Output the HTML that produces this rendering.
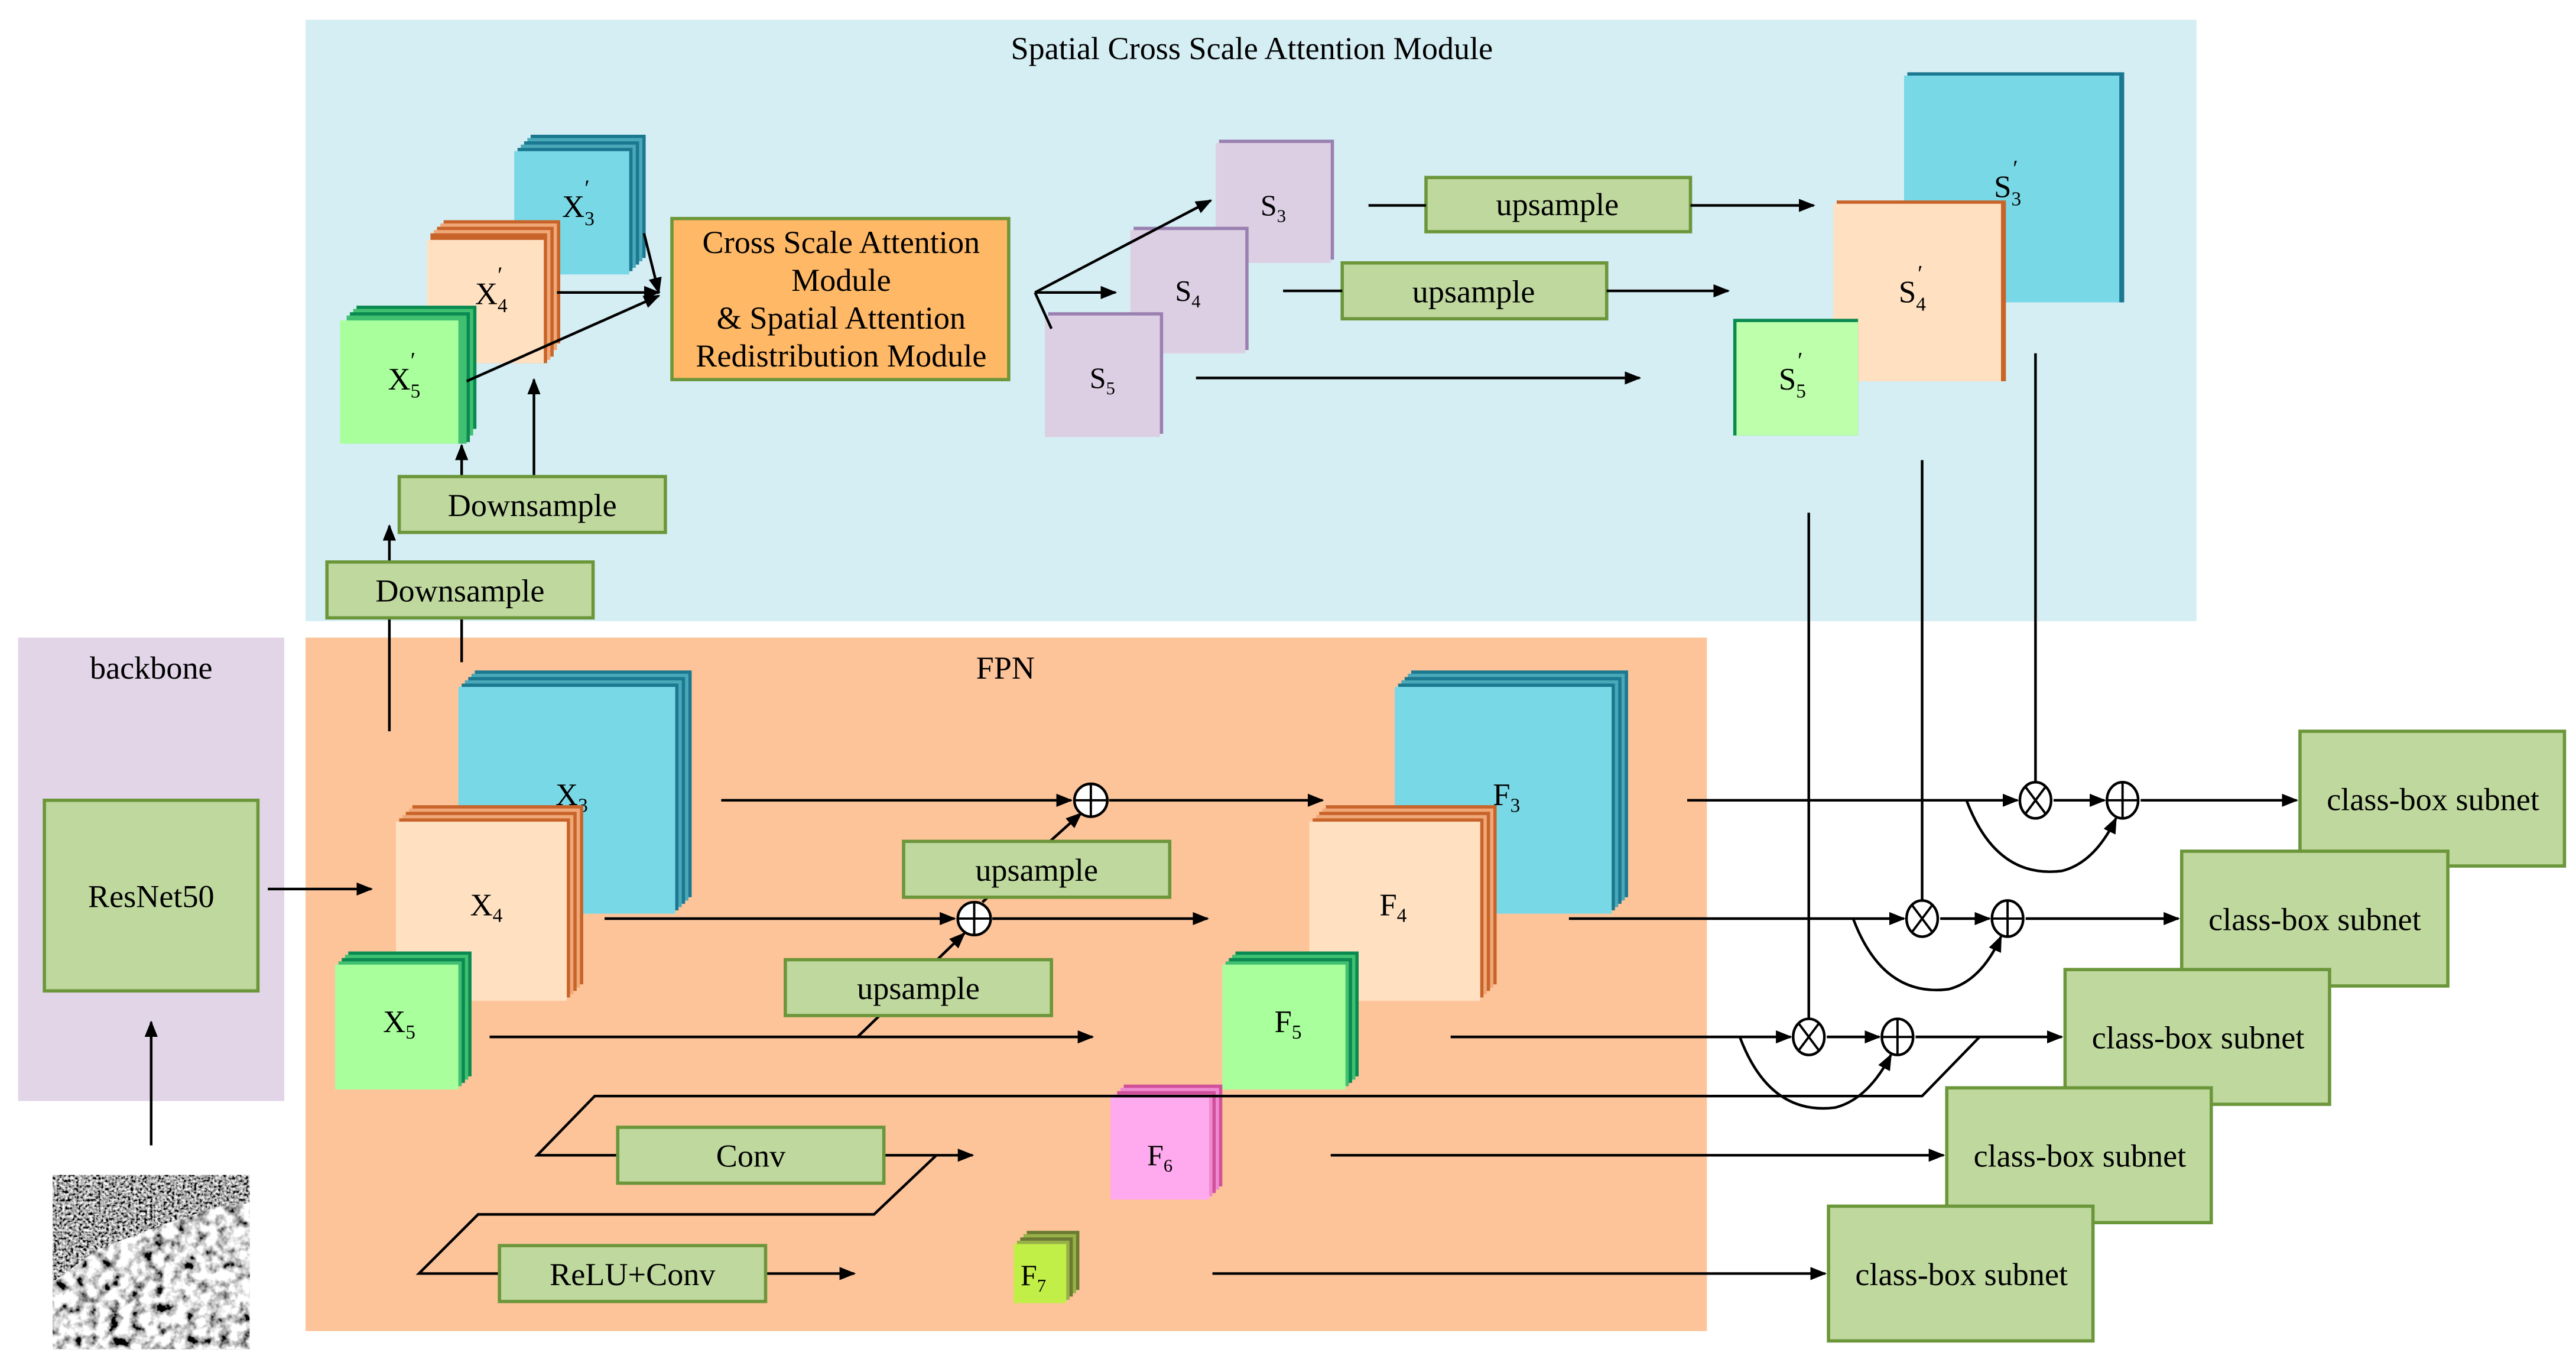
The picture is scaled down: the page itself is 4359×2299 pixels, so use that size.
<!DOCTYPE html>
<html><head><meta charset="utf-8"><style>
html,body{margin:0;padding:0;background:#fff;}
svg{display:block}
text{font-family:"Liberation Serif",serif;fill:#000}
</style></head><body>
<svg width="4359" height="2299" viewBox="0 0 1568 827" xmlns="http://www.w3.org/2000/svg">
<defs>
<marker id="a" markerWidth="10" markerHeight="8" refX="9" refY="4" orient="auto" markerUnits="userSpaceOnUse"><path d="M0,0 L10,4 L0,8 Z" fill="#000"/></marker>
<filter id="n" filterUnits="userSpaceOnUse" x="32" y="715" width="120" height="106"><feTurbulence type="fractalNoise" baseFrequency="0.6" numOctaves="2" seed="3"/><feColorMatrix type="saturate" values="0"/><feComponentTransfer><feFuncR type="linear" slope="3" intercept="-1.1"/><feFuncG type="linear" slope="3" intercept="-1.1"/><feFuncB type="linear" slope="3" intercept="-1.1"/><feFuncA type="linear" slope="0" intercept="1"/></feComponentTransfer></filter>
<filter id="m" filterUnits="userSpaceOnUse" x="32" y="715" width="120" height="106"><feTurbulence type="fractalNoise" baseFrequency="0.15" numOctaves="3" seed="7"/><feColorMatrix type="saturate" values="0"/><feComponentTransfer><feFuncR type="linear" slope="4" intercept="-1.3"/><feFuncG type="linear" slope="4" intercept="-1.3"/><feFuncB type="linear" slope="4" intercept="-1.3"/><feFuncA type="linear" slope="0" intercept="1"/></feComponentTransfer></filter>
<clipPath id="c"><rect x="32" y="715" width="120" height="106"/></clipPath>
<clipPath id="c2"><polygon points="32,780 60,760 100,745 130,735 152,732 152,821 32,821"/></clipPath>
</defs>
<rect width="1568" height="827" fill="#fff"/>
<rect x="186" y="12" width="1151" height="366" fill="#d5eef3"/>
<rect x="11" y="388" width="162" height="282" fill="#e1d5e7"/>
<rect x="186" y="388" width="853" height="422" fill="#fdc49a"/>
<text x="762" y="36" font-size="19.5" text-anchor="middle">Spatial Cross Scale Attention Module</text>
<text x="92" y="413" font-size="19.5" text-anchor="middle">backbone</text>
<text x="612" y="413" font-size="19.5" text-anchor="middle">FPN</text>

<rect x="27" y="487" width="130" height="116" fill="#bfd89e" stroke="#6b963a" stroke-width="2"/>
<text x="92" y="552" font-size="19.5" text-anchor="middle">ResNet50</text>
<g clip-path="url(#c)">
<rect x="32" y="715" width="120" height="106" fill="#222" filter="url(#n)"/>
<g clip-path="url(#c2)"><rect x="32" y="715" width="120" height="106" fill="#888" filter="url(#m)"/></g>
</g>
<line x1="92" y1="697" x2="92" y2="622" stroke="#000" stroke-width="1.6" marker-end="url(#a)"/>
<line x1="163" y1="541" x2="226" y2="541" stroke="#000" stroke-width="1.6" marker-end="url(#a)"/>

<g>
<rect x="289" y="408" width="132" height="138" fill="#1a7890"/><rect x="287" y="410" width="132" height="138" fill="#4aa8b8"/>
<rect x="285" y="412" width="132" height="138" fill="#1a7890"/><rect x="283" y="414" width="132" height="138" fill="#4aa8b8"/>
<rect x="281" y="416" width="132" height="138" fill="#1a7890"/>
<rect x="279" y="418" width="132" height="138" fill="#79d8e6"/>
</g>
<text x="348" y="490" font-size="19" text-anchor="middle">X<tspan font-size="12" dy="4">3</tspan></text>
<g>
<rect x="251" y="490" width="104" height="109" fill="#c8642a"/><rect x="249" y="492" width="104" height="109" fill="#f0a878"/>
<rect x="247" y="494" width="104" height="109" fill="#c8642a"/><rect x="245" y="496" width="104" height="109" fill="#f0a878"/>
<rect x="243" y="498" width="104" height="109" fill="#c8642a"/>
<rect x="241" y="500" width="104" height="109" fill="#ffe1c2"/>
</g>
<text x="296" y="557" font-size="19" text-anchor="middle">X<tspan font-size="12" dy="4">4</tspan></text>
<g>
<rect x="212" y="579" width="75" height="76" fill="#0a8a50"/><rect x="210" y="581" width="75" height="76" fill="#40c070"/>
<rect x="208" y="583" width="75" height="76" fill="#0a8a50"/><rect x="206" y="585" width="75" height="76" fill="#40c070"/>
<rect x="204" y="587" width="75" height="76" fill="#a8ff9c"/>
</g>
<text x="243" y="628" font-size="19" text-anchor="middle">X<tspan font-size="12" dy="4">5</tspan></text>

<g>
<rect x="859" y="408" width="132" height="138" fill="#1a7890"/><rect x="857" y="410" width="132" height="138" fill="#4aa8b8"/>
<rect x="855" y="412" width="132" height="138" fill="#1a7890"/><rect x="853" y="414" width="132" height="138" fill="#4aa8b8"/>
<rect x="851" y="416" width="132" height="138" fill="#1a7890"/>
<rect x="849" y="418" width="132" height="138" fill="#79d8e6"/>
</g>
<text x="917" y="490" font-size="19" text-anchor="middle">F<tspan font-size="12" dy="4">3</tspan></text>
<g>
<rect x="807" y="490" width="104" height="109" fill="#c8642a"/><rect x="805" y="492" width="104" height="109" fill="#f0a878"/>
<rect x="803" y="494" width="104" height="109" fill="#c8642a"/><rect x="801" y="496" width="104" height="109" fill="#f0a878"/>
<rect x="799" y="498" width="104" height="109" fill="#c8642a"/>
<rect x="797" y="500" width="104" height="109" fill="#ffe1c2"/>
</g>
<text x="848" y="557" font-size="19" text-anchor="middle">F<tspan font-size="12" dy="4">4</tspan></text>
<g>
<rect x="752" y="579" width="75" height="76" fill="#0a8a50"/><rect x="750" y="581" width="75" height="76" fill="#40c070"/>
<rect x="748" y="583" width="75" height="76" fill="#0a8a50"/><rect x="746" y="585" width="75" height="76" fill="#40c070"/>
<rect x="744" y="587" width="75" height="76" fill="#a8ff9c"/>
</g>
<text x="784" y="628" font-size="19" text-anchor="middle">F<tspan font-size="12" dy="4">5</tspan></text>
<g>
<rect x="684" y="660" width="60" height="62" fill="#d0509a"/><rect x="682" y="662" width="60" height="62" fill="#f08ad0"/>
<rect x="680" y="664" width="60" height="62" fill="#d0509a"/><rect x="678" y="666" width="60" height="62" fill="#f08ad0"/>
<rect x="676" y="668" width="60" height="62" fill="#ffaaee"/>
</g>
<text x="706" y="709" font-size="18" text-anchor="middle">F<tspan font-size="11" dy="4">6</tspan></text>
<g>
<rect x="625" y="749" width="32" height="36" fill="#6a7a30"/><rect x="623" y="751" width="32" height="36" fill="#98b048"/>
<rect x="621" y="753" width="32" height="36" fill="#6a7a30"/><rect x="619" y="755" width="32" height="36" fill="#98b048"/>
<rect x="617" y="757" width="32" height="36" fill="#c2ee48"/>
</g>
<text x="629" y="782" font-size="18" text-anchor="middle">F<tspan font-size="11" dy="4">7</tspan></text>

<g stroke="#000" stroke-width="1.6" fill="none">
<line x1="439" y1="487" x2="652" y2="487" marker-end="url(#a)"/>
<line x1="675" y1="487" x2="805" y2="487" marker-end="url(#a)"/>
<line x1="368" y1="559" x2="581" y2="559" marker-end="url(#a)"/>
<line x1="604" y1="559" x2="735" y2="559" marker-end="url(#a)"/>
<line x1="298" y1="631" x2="665" y2="631" marker-end="url(#a)"/>
<line x1="522" y1="631" x2="587" y2="568" marker-end="url(#a)"/>
<line x1="598" y1="549" x2="658" y2="495" marker-end="url(#a)"/>
<polyline points="1205,631 1170,667 362,667 327,703 592,703" marker-end="url(#a)"/>
<polyline points="570,703 532,739 291,739 255,775 520,775" marker-end="url(#a)"/>
<line x1="810" y1="703" x2="1183" y2="703" marker-end="url(#a)"/>
<line x1="738" y1="775" x2="1111" y2="775" marker-end="url(#a)"/>
<line x1="237" y1="445" x2="237" y2="320" marker-end="url(#a)"/>
<line x1="281" y1="403" x2="281" y2="376"/>
<line x1="281" y1="290" x2="281" y2="271" marker-end="url(#a)"/>
<line x1="325" y1="290" x2="325" y2="231" marker-end="url(#a)"/>
</g>
<g stroke="#000" stroke-width="1.6" fill="#fff">
<circle cx="664" cy="487" r="10"/><circle cx="593" cy="559" r="10"/>
</g>
<g stroke="#000" stroke-width="1.4">
<line x1="654" y1="487" x2="674" y2="487"/><line x1="664" y1="477" x2="664" y2="497"/>
<line x1="583" y1="559" x2="603" y2="559"/><line x1="593" y1="549" x2="593" y2="569"/>
</g>

<g fill="#bfd89e" stroke="#6b963a" stroke-width="2">
<rect x="550" y="512" width="162" height="34"/>
<rect x="478" y="584" width="162" height="34"/>
<rect x="376" y="686" width="162" height="34"/>
<rect x="304" y="758" width="162" height="34"/>
<rect x="243" y="290" width="162" height="34"/>
<rect x="199" y="342" width="162" height="34"/>
<rect x="868" y="108" width="161" height="33"/>
<rect x="817" y="160" width="161" height="34"/>
</g>
<g font-size="19.5" text-anchor="middle">
<text x="631" y="536">upsample</text>
<text x="559" y="608">upsample</text>
<text x="457" y="710">Conv</text>
<text x="385" y="782">ReLU+Conv</text>
<text x="324" y="314">Downsample</text>
<text x="280" y="366">Downsample</text>
<text x="948" y="131">upsample</text>
<text x="897" y="184">upsample</text>
</g>

<g>
<rect x="323" y="82" width="70" height="75" fill="#1a7890"/><rect x="321" y="84" width="70" height="75" fill="#4aa8b8"/>
<rect x="319" y="86" width="70" height="75" fill="#1a7890"/><rect x="317" y="88" width="70" height="75" fill="#4aa8b8"/>
<rect x="315" y="90" width="70" height="75" fill="#1a7890"/>
<rect x="313" y="92" width="70" height="75" fill="#79d8e6"/>
</g>
<text x="352" y="132" font-size="19" text-anchor="middle">X<tspan font-size="12" dy="5">3</tspan><tspan font-size="14" dx="-6" dy="-18">′</tspan></text>
<g>
<rect x="270" y="134" width="71" height="75" fill="#c8642a"/><rect x="268" y="136" width="71" height="77" fill="#f0a878"/>
<rect x="266" y="138" width="71" height="79" fill="#c8642a"/><rect x="264" y="140" width="71" height="79" fill="#f0a878"/>
<rect x="262" y="142" width="71" height="79" fill="#c8642a"/>
<rect x="260" y="146" width="71" height="75" fill="#ffe1c2"/>
</g>
<text x="299" y="185" font-size="19" text-anchor="middle">X<tspan font-size="12" dy="5">4</tspan><tspan font-size="14" dx="-6" dy="-18">′</tspan></text>
<g>
<rect x="217" y="186" width="73" height="75" fill="#0a8a50"/><rect x="215" y="188" width="73" height="77" fill="#40c070"/>
<rect x="213" y="190" width="73" height="79" fill="#0a8a50"/><rect x="211" y="192" width="73" height="78" fill="#40c070"/>
<rect x="207" y="195" width="72" height="75" fill="#a8ff9c"/>
</g>
<text x="246" y="237" font-size="19" text-anchor="middle">X<tspan font-size="12" dy="5">5</tspan><tspan font-size="14" dx="-6" dy="-18">′</tspan></text>

<rect x="409" y="133" width="205" height="98" fill="#ffb866" stroke="#6b963a" stroke-width="2"/>
<g font-size="19.5" text-anchor="middle">
<text x="512" y="154">Cross Scale Attention</text>
<text x="512" y="177">Module</text>
<text x="512" y="200">&amp; Spatial Attention</text>
<text x="512" y="223">Redistribution Module</text>
</g>
<g stroke="#000" stroke-width="1.6" fill="none">
<line x1="392" y1="142" x2="401" y2="178" marker-end="url(#a)"/>
<line x1="339" y1="178" x2="401" y2="178" marker-end="url(#a)"/>
<line x1="284" y1="232" x2="401" y2="180" marker-end="url(#a)"/>
</g>

<g>
<rect x="742" y="85" width="70" height="73" fill="#9a80b0"/>
<rect x="740" y="87" width="70" height="73" fill="#dccfe4"/>
<rect x="690" y="138" width="70" height="75" fill="#9a80b0"/>
<rect x="688" y="140" width="70" height="75" fill="#dccfe4"/>
<rect x="638" y="190" width="70" height="74" fill="#9a80b0"/>
<rect x="636" y="192" width="70" height="74" fill="#dccfe4"/>
</g>
<g font-size="18" text-anchor="middle">
<text x="775" y="131">S<tspan font-size="11" dy="4">3</tspan></text>
<text x="723" y="183">S<tspan font-size="11" dy="4">4</tspan></text>
<text x="671" y="236">S<tspan font-size="11" dy="4">5</tspan></text>
</g>
<g stroke="#000" stroke-width="1.6" fill="none">
<line x1="630" y1="178" x2="737" y2="122" marker-end="url(#a)"/>
<line x1="630" y1="178" x2="679" y2="178" marker-end="url(#a)"/>
<line x1="630" y1="178" x2="640" y2="200"/>
<line x1="833" y1="125" x2="868" y2="125"/>
<line x1="1029" y1="125" x2="1104" y2="125" marker-end="url(#a)"/>
<line x1="781" y1="177" x2="817" y2="177"/>
<line x1="978" y1="177" x2="1052" y2="177" marker-end="url(#a)"/>
<line x1="728" y1="230" x2="998" y2="230" marker-end="url(#a)"/>
</g>

<rect x="1161" y="44" width="132" height="140" fill="#1a7890"/>
<rect x="1159" y="46" width="131" height="138" fill="#79d8e6"/>
<rect x="1118" y="122" width="103" height="110" fill="#c8642a"/>
<rect x="1116" y="124" width="102" height="108" fill="#ffe1c2"/>
<rect x="1055" y="194" width="76" height="71" fill="#0a8a50"/>
<rect x="1057" y="196" width="74" height="69" fill="#bdffaa"/>
<g font-size="19" text-anchor="middle">
<text x="1222" y="120">S<tspan font-size="12" dy="5">3</tspan><tspan font-size="14" dx="-5" dy="-18">′</tspan></text>
<text x="1164" y="184">S<tspan font-size="12" dy="5">4</tspan><tspan font-size="14" dx="-5" dy="-18">′</tspan></text>
<text x="1091" y="237">S<tspan font-size="12" dy="5">5</tspan><tspan font-size="14" dx="-5" dy="-18">′</tspan></text>
</g>

<g stroke="#000" stroke-width="1.6" fill="none">
<line x1="1239" y1="215" x2="1239" y2="476"/>
<line x1="1170" y1="280" x2="1170" y2="548"/>
<line x1="1101" y1="312" x2="1101" y2="620"/>
<line x1="1027" y1="487" x2="1228" y2="487" marker-end="url(#a)"/>
<line x1="1250" y1="487" x2="1281" y2="487" marker-end="url(#a)"/>
<line x1="1303" y1="487" x2="1398" y2="487" marker-end="url(#a)"/>
<path d="M1197,487 Q1215,535 1255,530 Q1275,525 1288,498" marker-end="url(#a)"/>
<line x1="955" y1="559" x2="1159" y2="559" marker-end="url(#a)"/>
<line x1="1181" y1="559" x2="1211" y2="559" marker-end="url(#a)"/>
<line x1="1233" y1="559" x2="1326" y2="559" marker-end="url(#a)"/>
<path d="M1128,559 Q1146,607 1186,602 Q1206,597 1218,570" marker-end="url(#a)"/>
<line x1="883" y1="631" x2="1090" y2="631" marker-end="url(#a)"/>
<line x1="1112" y1="631" x2="1144" y2="631" marker-end="url(#a)"/>
<line x1="1166" y1="631" x2="1255" y2="631" marker-end="url(#a)"/>
<path d="M1059,631 Q1077,679 1117,674 Q1137,669 1151,642" marker-end="url(#a)"/>
</g>
<g stroke="#000" stroke-width="1.6" fill="#fff">
<ellipse cx="1239" cy="487" rx="9.5" ry="11"/><ellipse cx="1292" cy="487" rx="9.5" ry="11"/>
<ellipse cx="1170" cy="559" rx="9.5" ry="11"/><ellipse cx="1222" cy="559" rx="9.5" ry="11"/>
<ellipse cx="1101" cy="631" rx="9.5" ry="11"/><ellipse cx="1155" cy="631" rx="9.5" ry="11"/>
</g>
<g stroke="#000" stroke-width="1.4">
<path d="M1233,479 L1245,495 M1245,479 L1233,495"/><path d="M1282.5,487 H1301.5 M1292,476 V498"/>
<path d="M1164,551 L1176,567 M1176,551 L1164,567"/><path d="M1212.5,559 H1231.5 M1222,548 V570"/>
<path d="M1095,623 L1107,639 M1107,623 L1095,639"/><path d="M1145.5,631 H1164.5 M1155,620 V642"/>
</g>

<g fill="#bfd89e" stroke="#6b963a" stroke-width="2">
<rect x="1400" y="445" width="161" height="82"/>
<rect x="1328" y="518" width="162" height="82"/>
<rect x="1257" y="590" width="161" height="82"/>
<rect x="1185" y="662" width="161" height="82"/>
<rect x="1113" y="734" width="161" height="82"/>
</g>
<g font-size="19.5" text-anchor="middle">
<text x="1481" y="493">class-box subnet</text>
<text x="1409" y="566">class-box subnet</text>
<text x="1338" y="638">class-box subnet</text>
<text x="1266" y="710">class-box subnet</text>
<text x="1194" y="782">class-box subnet</text>
</g>
</svg>
</body></html>
